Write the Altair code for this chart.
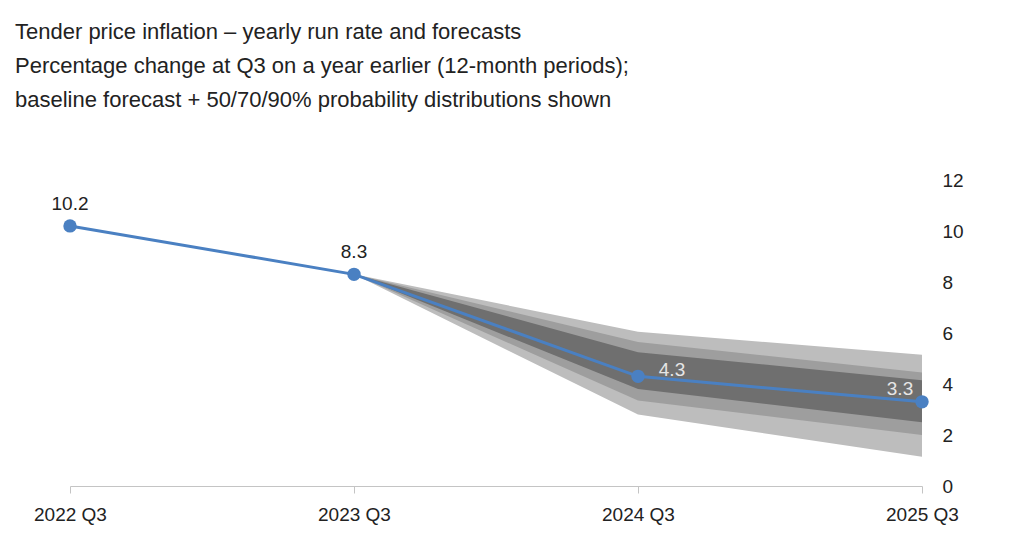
import altair as alt
import pandas as pd

# Observed yearly run rate (% change at Q3 on a year earlier)
periods = ["2022 Q3", "2023 Q3", "2024 Q3", "2025 Q3"]
rate = [10.2, 8.3, 4.3, 3.3]

# Forecast probability bands, fanning out from the last outturn
fan_periods = ["2023 Q3", "2024 Q3", "2025 Q3"]
lo90 = [8.3, 2.8, 1.15]
hi90 = [8.3, 6.05, 5.15]
lo70 = [8.3, 3.35, 2.0]
hi70 = [8.3, 5.65, 4.45]
lo50 = [8.3, 3.8, 2.5]
hi50 = [8.3, 5.25, 4.15]

line_df = pd.DataFrame({"period": periods, "rate": rate})
fan_df = pd.DataFrame({
    "period": fan_periods,
    "lo90": lo90, "hi90": hi90,
    "lo70": lo70, "hi70": hi70,
    "lo50": lo50, "hi50": hi50,
})

FONT = "Liberation Sans"
x_enc = alt.X(
    "period:O",
    scale=alt.Scale(type="point", domain=periods, padding=0),
    axis=alt.Axis(
        title=None, labelAngle=0, labelFontSize=19, labelColor="#222222",
        labelFont=FONT, domainColor="#c4c4c4", tickColor="#c4c4c4",
        tickSize=7, labelPadding=12, grid=False,
    ),
)
y_scale = alt.Scale(domain=[0, 12], nice=False)
y_axis = alt.Axis(
    orient="right", title=None, values=[0, 2, 4, 6, 8, 10, 12],
    ticks=False, domain=False, grid=False, labelFontSize=19,
    labelColor="#222222", labelFont=FONT, labelPadding=20, labelAlign="left",
)

fan = alt.Chart(fan_df)
band90 = fan.mark_area(color="#bdbdbd", opacity=1).encode(
    x=x_enc, y=alt.Y("lo90:Q", scale=y_scale, axis=y_axis), y2="hi90:Q")
band70 = fan.mark_area(color="#9e9e9e", opacity=1).encode(
    x="period:O", y="lo70:Q", y2="hi70:Q")
band50 = fan.mark_area(color="#6f6f6f", opacity=1).encode(
    x="period:O", y="lo50:Q", y2="hi50:Q")

base = alt.Chart(line_df).encode(x="period:O", y="rate:Q")
line = base.mark_line(color="#4a80c2", strokeWidth=3)
points = base.mark_circle(color="#4a80c2", size=180, opacity=1)

labels_dark = base.transform_filter(
    alt.FieldOneOfPredicate(field="period", oneOf=["2022 Q3", "2023 Q3"])
).mark_text(font=FONT, fontSize=19, color="#222222", dy=-22).encode(
    text=alt.Text("rate:Q", format=".1f"))
label_2024 = base.transform_filter(
    alt.datum.period == "2024 Q3"
).mark_text(font=FONT, fontSize=19, color="#e6e6e6", dx=34, dy=-6).encode(
    text=alt.Text("rate:Q", format=".1f"))
label_2025 = base.transform_filter(
    alt.datum.period == "2025 Q3"
).mark_text(font=FONT, fontSize=19, color="#e6e6e6", dx=-22, dy=-13).encode(
    text=alt.Text("rate:Q", format=".1f"))

chart = alt.layer(
    band90, band70, band50, line, points, labels_dark, label_2024, label_2025
).properties(
    width=852,
    height=306,
    title=alt.TitleParams(
        text=[
            "Tender price inflation \u2013 yearly run rate and forecasts",
            "Percentage change at Q3 on a year earlier (12-month periods);",
            "baseline forecast + 50/70/90% probability distributions shown",
        ],
        anchor="start", frame="group", font=FONT, fontSize=22,
        fontWeight="normal", color="#222222", lineHeight=34, dx=-55, offset=59,
    ),
    autosize=alt.AutoSizeParams(type="none"),
    padding={"left": 70, "top": 180, "right": 102, "bottom": 50},
).configure(background="white").configure_view(stroke=None)

chart.save("out.html", embed_options={"renderer": "svg", "actions": False})
